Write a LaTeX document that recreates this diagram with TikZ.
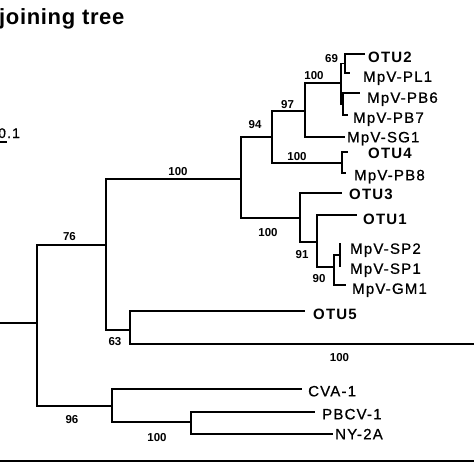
\documentclass[tikz,border=0pt]{standalone}
\usepackage{fontspec}
\setmainfont{Liberation Sans}
\newfontfamily\tipfont[LetterSpace=8,FakeBold=0.8]{Liberation Sans}
\newfontfamily\otufont[LetterSpace=8]{Liberation Sans}
\newfontfamily\titlefont[LetterSpace=3]{Liberation Sans}
\begin{document}
\begin{tikzpicture}[x=1pt,y=-1pt,
  br/.style={line width=1.3pt,line join=miter},
  tip/.style={anchor=west,inner sep=0pt,text height=10.7pt,text depth=0pt,font=\tipfont\fontsize{15}{15}\selectfont},
  otu/.style={tip,font=\otufont\fontsize{15}{15}\selectfont\bfseries},
  bs/.style={inner sep=0pt,text height=8.2pt,text depth=0pt,font=\fontsize{11.5}{11.5}\selectfont\bfseries}]
\useasboundingbox (0,0) rectangle (474,474);
% title and scale
\node[anchor=base west,inner sep=0pt,font=\titlefont\fontsize{22}{22}\selectfont\bfseries] (title) at (-1,24) {joining tree};
\node[anchor=base west,inner sep=0pt,font=\tipfont\fontsize{14}{14}\selectfont] (scale) at (-2,138) {0.1};
\coordinate (sa) at (-3,142);
\coordinate (sb) at (7,142);
\draw[line width=1.3pt] (sa) -- (sb);
% internal nodes
\coordinate (R0) at (-2,323);
\coordinate (A) at (37,323);
\coordinate (B76) at (106,245);
\coordinate (B96) at (112,406);
\coordinate (C100) at (241,179);
\coordinate (C63) at (130,330);
\coordinate (D94) at (272,137);
\coordinate (D100) at (300,218);
\coordinate (E97) at (305,111);
\coordinate (E100) at (342,163);
\coordinate (F100) at (341,83);
\coordinate (G69) at (345,63.5);
\coordinate (H) at (343,104);
\coordinate (I91) at (317,242);
\coordinate (J90) at (334,267);
\coordinate (K) at (340,255);
\coordinate (L100) at (191,422);
% tips
\coordinate (tOTU2) at (365,54);
\coordinate (tPL1) at (350,73);
\coordinate (tPB6) at (360,93);
\coordinate (tPB7) at (348,115);
\coordinate (tSG1) at (345,137);
\coordinate (tOTU4) at (348,152);
\coordinate (tPB8) at (346,173);
\coordinate (tOTU3) at (342,193);
\coordinate (tOTU1) at (357,215);
\coordinate (tSP2) at (341,244);
\coordinate (tSP1) at (341,266);
\coordinate (tGM1) at (346,285);
\coordinate (tOTU5) at (305,311);
\coordinate (tLong) at (476,344);
\coordinate (tCVA) at (302,389);
\coordinate (tPBCV) at (315,412);
\coordinate (tNY) at (333,434);
% branches
\draw[br] (R0) -- (A);
\draw[br] (A) |- (B76) (A) |- (B96);
\draw[br] (B76) |- (C100) (B76) |- (C63);
\draw[br] (C100) |- (D94) (C100) |- (D100);
\draw[br] (D94) |- (E97) (D94) |- (E100);
\draw[br] (E97) |- (F100) (E97) |- (tSG1);
\draw[br] (F100) |- (G69) (F100) |- (H);
\draw[br] (G69) |- (tOTU2) (G69) |- (tPL1);
\draw[br] (H) |- (tPB6) (H) |- (tPB7);
\draw[br] (E100) |- (tOTU4) (E100) |- (tPB8);
\draw[br] (D100) |- (tOTU3) (D100) |- (I91);
\draw[br] (I91) |- (tOTU1) (I91) |- (J90);
\draw[br] (J90) |- (K) (J90) |- (tGM1);
\draw[br] (K) |- (tSP2) (K) |- (tSP1);
\draw[br] (C63) |- (tOTU5) (C63) |- (tLong);
\draw[br] (B96) |- (tCVA) (B96) |- (L100);
\draw[br] (L100) |- (tPBCV) (L100) |- (tNY);
% tip labels
\node[otu] (lOTU2) at (368,57) {OTU2};
\node[tip] (lPL1) at (363,76.5) {MpV-PL1};
\node[tip] (lPB6) at (367,97.5) {MpV-PB6};
\node[tip] (lPB7) at (353,117.5) {MpV-PB7};
\node[tip] (lSG1) at (347,137) {MpV-SG1};
\node[otu] (lOTU4) at (368,153) {OTU4};
\node[tip] (lPB8) at (354,175) {MpV-PB8};
\node[otu] (lOTU3) at (349,194) {OTU3};
\node[otu] (lOTU1) at (363,219) {OTU1};
\node[tip] (lSP2) at (350,248.5) {MpV-SP2};
\node[tip] (lSP1) at (350,268.5) {MpV-SP1};
\node[tip] (lGM1) at (352,288.5) {MpV-GM1};
\node[otu] (lOTU5) at (313,314.5) {OTU5};
\node[tip] (lCVA) at (308,391) {CVA-1};
\node[tip] (lPBCV) at (322,414) {PBCV-1};
\node[tip] (lNY) at (335,434) {NY-2A};
% bootstrap values
\node[bs] (b69) at (331.5,58.5) {69};
\node[bs] (b100f) at (314,75) {100};
\node[bs] (b97) at (287.5,104.5) {97};
\node[bs] (b94) at (255,124.5) {94};
\node[bs] (b100e) at (297,156.5) {100};
\node[bs] (b100c) at (178,171) {100};
\node[bs] (b76) at (69.5,236) {76};
\node[bs] (b63) at (115,341) {63};
\node[bs] (b100d) at (268,232.5) {100};
\node[bs] (b91) at (302,254.5) {91};
\node[bs] (b90) at (319,278.5) {90};
\node[bs] (b100l) at (339.5,357.5) {100};
\node[bs] (b96) at (72,419) {96};
\node[bs] (b100n) at (157,437.5) {100};
% bottom rule
\coordinate (rL) at (-1,460.5);
\coordinate (rR) at (475,460.5);
\draw[line width=2pt] (rL) -- (rR);
\end{tikzpicture}
\end{document}
